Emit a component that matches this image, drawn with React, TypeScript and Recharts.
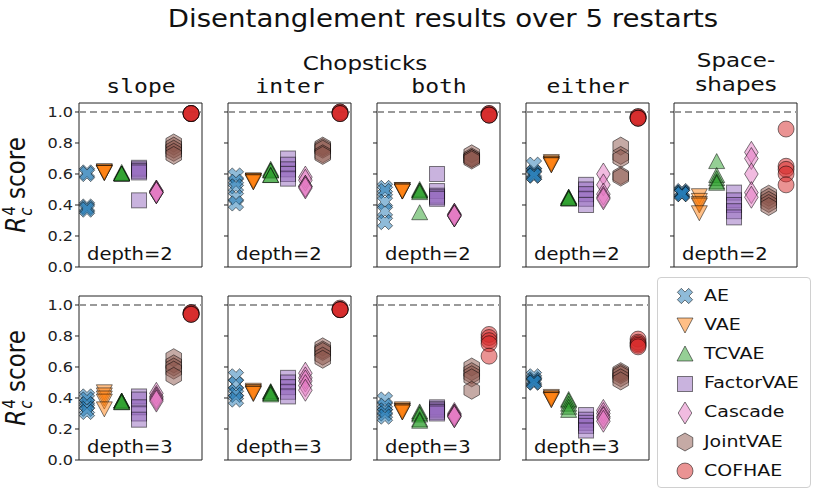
import React from 'react';
import {
  ScatterChart,
  Scatter,
  XAxis,
  YAxis,
  ReferenceLine,
  ReferenceArea,
} from 'recharts';

// methods in plotting order, one x slot each
const METHODS = ['AE', 'VAE', 'TCVAE', 'FactorVAE', 'Cascade', 'JointVAE', 'COFHAE'];
const COLORS = ['#1f77b4', '#ff7f0e', '#2ca02c', '#9467bd', '#e377c2', '#8c564b', '#d62728'];
const MARKERS = ['X', 'v', '^', 's', 'd', 'h', 'o'];
const Y_TICKS = [0, 0.2, 0.4, 0.6, 0.8, 1.0];

// scores per method (rows follow METHODS), 5 restarts each
const SLOPE_D2 = [
  [0.61, 0.6, 0.39, 0.38, 0.37],
  [0.62, 0.62, 0.61, 0.61, 0.61],
  [0.61, 0.6, 0.6, 0.6, 0.6],
  [0.64, 0.63, 0.62, 0.61, 0.43],
  [0.49, 0.49, 0.48, 0.48, 0.48],
  [0.8, 0.78, 0.76, 0.74, 0.72],
  [0.99, 0.99, 0.99, 0.99, 0.99],
];
const INTER_D2 = [
  [0.59, 0.55, 0.52, 0.45, 0.41],
  [0.56, 0.56, 0.56, 0.55, 0.55],
  [0.63, 0.62, 0.62, 0.59, 0.59],
  [0.7, 0.66, 0.63, 0.6, 0.57],
  [0.58, 0.56, 0.52, 0.52, 0.51],
  [0.78, 0.77, 0.76, 0.73, 0.72],
  [1.0, 1.0, 0.99, 0.99, 0.99],
];
const BOTH_D2 = [
  [0.51, 0.49, 0.42, 0.36, 0.29],
  [0.5, 0.5, 0.49, 0.49, 0.49],
  [0.5, 0.49, 0.49, 0.48, 0.35],
  [0.6, 0.49, 0.46, 0.45, 0.44],
  [0.34, 0.34, 0.33, 0.33, 0.33],
  [0.73, 0.71, 0.7, 0.7, 0.69],
  [0.99, 0.99, 0.98, 0.98, 0.98],
];
const EITHER_D2 = [
  [0.66, 0.61, 0.6, 0.59, 0.59],
  [0.68, 0.67, 0.67, 0.66, 0.66],
  [0.45, 0.45, 0.44, 0.44, 0.44],
  [0.53, 0.5, 0.47, 0.44, 0.4],
  [0.6, 0.53, 0.47, 0.45, 0.44],
  [0.78, 0.72, 0.7, 0.59, 0.58],
  [0.97, 0.97, 0.96, 0.96, 0.96],
];
const SPACE_SHAPES = [
  [0.49, 0.48, 0.48, 0.47, 0.47],
  [0.46, 0.43, 0.41, 0.4, 0.35],
  [0.68, 0.59, 0.57, 0.55, 0.54],
  [0.48, 0.43, 0.4, 0.36, 0.32],
  [0.74, 0.7, 0.6, 0.48, 0.45],
  [0.47, 0.45, 0.43, 0.41, 0.39],
  [0.89, 0.65, 0.63, 0.6, 0.53],
];
const SLOPE_D3 = [
  [0.41, 0.39, 0.36, 0.33, 0.31],
  [0.44, 0.42, 0.4, 0.38, 0.33],
  [0.38, 0.38, 0.38, 0.37, 0.37],
  [0.41, 0.39, 0.34, 0.3, 0.26],
  [0.43, 0.41, 0.4, 0.39, 0.38],
  [0.66, 0.62, 0.6, 0.58, 0.54],
  [0.95, 0.95, 0.94, 0.94, 0.94],
];
const INTER_D3 = [
  [0.54, 0.49, 0.44, 0.42, 0.39],
  [0.45, 0.44, 0.44, 0.43, 0.43],
  [0.44, 0.44, 0.43, 0.43, 0.42],
  [0.53, 0.5, 0.47, 0.44, 0.41],
  [0.56, 0.53, 0.51, 0.48, 0.45],
  [0.73, 0.71, 0.7, 0.67, 0.65],
  [0.98, 0.97, 0.97, 0.97, 0.97],
];
const BOTH_D3 = [
  [0.39, 0.35, 0.32, 0.3, 0.28],
  [0.33, 0.32, 0.32, 0.31, 0.31],
  [0.31, 0.3, 0.29, 0.26, 0.25],
  [0.34, 0.33, 0.32, 0.31, 0.3],
  [0.3, 0.29, 0.29, 0.28, 0.28],
  [0.6, 0.57, 0.55, 0.53, 0.45],
  [0.81, 0.79, 0.77, 0.75, 0.67],
];
const EITHER_D3 = [
  [0.54, 0.52, 0.51, 0.5, 0.5],
  [0.41, 0.4, 0.4, 0.39, 0.39],
  [0.39, 0.38, 0.36, 0.34, 0.32],
  [0.29, 0.26, 0.24, 0.22, 0.19],
  [0.32, 0.3, 0.28, 0.27, 0.25],
  [0.57, 0.56, 0.55, 0.53, 0.51],
  [0.78, 0.76, 0.75, 0.74, 0.73],
];

const SANS = '"DejaVu Sans", sans-serif';
const MONO = '"DejaVu Sans Mono", monospace';
const STRETCH = 1.15;

const PLOT_W = 123;
const PLOT_H = 164;
const Y_AXIS_W = 45;
const COL_LEFT = [79, 228, 377, 526, 674];
const ROW_TOP = [103, 296];
const X_DOMAIN: [number, number] = [-0.46, 6.63];
const Y_DOMAIN: [number, number] = [0, 1.058];

const MarkerShape = ({ kind, cx, cy, color }: any) => {
  const common = {
    fill: color,
    fillOpacity: 0.5,
    stroke: '#000',
    strokeOpacity: 0.5,
    strokeWidth: 1,
  };
  if (cx == null || cy == null) return <g />;
  const pts = (arr: number[][]) => arr.map(([x, y]) => `${cx + x},${cy + y}`).join(' ');
  switch (kind) {
    case 'X': {
      const a = 8;
      const w = 2.8;
      const plus = [
        [-w, -a], [w, -a], [w, -w], [a, -w], [a, w], [w, w],
        [w, a], [-w, a], [-w, w], [-a, w], [-a, -w], [-w, -w],
      ];
      const c = Math.SQRT1_2;
      const rot = plus.map(([x, y]) => [(x - y) * c, (x + y) * c]);
      return <polygon points={pts(rot)} {...common} />;
    }
    case 'v':
      return <polygon points={pts([[-8, -7], [8, -7], [0, 8]])} {...common} />;
    case '^':
      return <polygon points={pts([[0, -8], [8, 7], [-8, 7]])} {...common} />;
    case 's':
      return <rect x={cx - 7.5} y={cy - 7.5} width={15} height={15} {...common} />;
    case 'd':
      return <polygon points={pts([[0, -11], [6.8, 0], [0, 11], [-6.8, 0]])} {...common} />;
    case 'h': {
      const r = 9;
      const hex = [0, 1, 2, 3, 4, 5].map((k) => {
        const ang = ((90 + 60 * k) * Math.PI) / 180;
        return [r * Math.cos(ang), -r * Math.sin(ang)];
      });
      return <polygon points={pts(hex)} {...common} />;
    }
    default:
      return <circle cx={cx} cy={cy} r={8} {...common} />;
  }
};

const YTick = ({ x, y, payload, show }: any) => {
  if (!show) return <g />;
  return (
    <text
      x={x}
      y={y}
      dy={5}
      textAnchor="end"
      fontSize={14}
      fontFamily={SANS}
      fill="#222"
      transform={`translate(${x} 0) scale(${STRETCH} 1) translate(${-x} 0)`}
    >
      {Number(payload.value).toFixed(1)}
    </text>
  );
};

const Stretched = ({ left, top, size, family, align = 'center', children }: any) => (
  <div
    style={{
      position: 'absolute',
      left,
      top,
      fontSize: size,
      fontFamily: family,
      lineHeight: 1,
      whiteSpace: 'nowrap',
      color: '#111',
      transform:
        align === 'center'
          ? `translateX(-50%) scaleX(${STRETCH})`
          : `scaleX(${STRETCH})`,
      transformOrigin: align === 'center' ? 'center' : 'left',
    }}
  >
    {children}
  </div>
);

const Panel = ({ scores, col, row, depth }: any) => {
  const left = COL_LEFT[col];
  const top = ROW_TOP[row];
  const showTicks = col === 0;
  return (
    <>
      <div style={{ position: 'absolute', left: left - Y_AXIS_W, top: top - 1 }}>
        <ScatterChart
          width={Y_AXIS_W + PLOT_W + 1}
          height={PLOT_H + 12}
          margin={{ top: 1, right: 1, bottom: 11, left: 0 }}
        >
          <XAxis type="number" dataKey="x" domain={X_DOMAIN} allowDataOverflow hide />
          <YAxis
            type="number"
            dataKey="y"
            domain={Y_DOMAIN}
            allowDataOverflow
            ticks={Y_TICKS}
            interval={0}
            width={Y_AXIS_W}
            axisLine={false}
            tickLine={{ stroke: '#222' }}
            tickSize={4}
            tick={<YTick show={showTicks} />}
          />
          <ReferenceArea
            x1={X_DOMAIN[0]}
            x2={X_DOMAIN[1]}
            y1={Y_DOMAIN[0]}
            y2={Y_DOMAIN[1]}
            fill="none"
            fillOpacity={0}
            stroke="#222"
            strokeWidth={1}
            ifOverflow="visible"
          />
          <ReferenceLine y={1} stroke="#9a9a9a" strokeWidth={2} strokeDasharray="7 4" />
          {METHODS.map((m, i) => (
            <Scatter
              key={m}
              name={m}
              data={scores[i].map((v: number) => ({ x: i, y: v }))}
              isAnimationActive={false}
              shape={(p: any) => (
                <MarkerShape kind={MARKERS[i]} cx={p.cx} cy={p.cy} color={COLORS[i]} />
              )}
            />
          ))}
        </ScatterChart>
      </div>
      <Stretched left={left + 8} top={top + PLOT_H - 21.5} size={17} family={SANS} align="left">
        {`depth=${depth}`}
      </Stretched>
    </>
  );
};

const YLabel = ({ centerY }: any) => (
  <div
    style={{
      position: 'absolute',
      left: 18,
      top: centerY,
      fontSize: 23,
      fontFamily: SANS,
      lineHeight: 1,
      whiteSpace: 'nowrap',
      color: '#111',
      transform: `translate(-50%, -50%) scale(${STRETCH}, 1) rotate(-90deg)`,
    }}
  >
    <span style={{ fontStyle: 'italic' }}>R</span>
    <span
      style={{
        display: 'inline-flex',
        flexDirection: 'column',
        fontSize: 15,
        lineHeight: 0.95,
        verticalAlign: 'middle',
        marginLeft: 1,
      }}
    >
      <span>4</span>
      <span style={{ fontStyle: 'italic' }}>c</span>
    </span>
    <span> score</span>
  </div>
);

const Legend = () => (
  <div
    style={{
      position: 'absolute',
      left: 657,
      top: 277,
      width: 152,
      height: 209,
      border: '1px solid #d0d0d0',
      borderRadius: 4,
      background: '#fff',
    }}
  >
    {METHODS.map((m, i) => (
      <div
        key={m}
        style={{ position: 'absolute', left: 0, top: 18 + i * 29.2 - 12, height: 24, width: 150 }}
      >
        <svg width={40} height={24} style={{ position: 'absolute', left: 7, top: 0 }}>
          <MarkerShape kind={MARKERS[i]} cx={20} cy={12} color={COLORS[i]} />
        </svg>
        <div
          style={{
            position: 'absolute',
            left: 46,
            top: 12 - 8.5,
            fontSize: 16.5,
            fontFamily: SANS,
            lineHeight: 1,
            color: '#111',
            transform: `scaleX(${STRETCH})`,
            transformOrigin: 'left',
          }}
        >
          {m}
        </div>
      </div>
    ))}
  </div>
);

export default function App() {
  const colCenter = (c: number) => COL_LEFT[c] + PLOT_W / 2;
  return (
    <div
      style={{
        position: 'absolute',
        left: 0,
        top: 0,
        width: 818,
        height: 495,
        background: '#fff',
        overflow: 'hidden',
      }}
    >
      <Stretched left={443} top={6.5} size={24} family={SANS}>
        Disentanglement results over 5 restarts
      </Stretched>
      <Stretched left={365} top={53} size={20} family={SANS}>
        Chopsticks
      </Stretched>
      {['slope', 'inter', 'both', 'either'].map((t, c) => (
        <Stretched key={t} left={colCenter(c)} top={76} size={20} family={MONO}>
          {t}
        </Stretched>
      ))}
      <Stretched left={colCenter(4)} top={50} size={20} family={SANS}>
        Space-
      </Stretched>
      <Stretched left={colCenter(4)} top={74} size={20} family={SANS}>
        shapes
      </Stretched>

      <YLabel centerY={185} />
      <YLabel centerY={378} />

      <Panel scores={SLOPE_D2} col={0} row={0} depth={2} />
      <Panel scores={INTER_D2} col={1} row={0} depth={2} />
      <Panel scores={BOTH_D2} col={2} row={0} depth={2} />
      <Panel scores={EITHER_D2} col={3} row={0} depth={2} />
      <Panel scores={SPACE_SHAPES} col={4} row={0} depth={2} />

      <Panel scores={SLOPE_D3} col={0} row={1} depth={3} />
      <Panel scores={INTER_D3} col={1} row={1} depth={3} />
      <Panel scores={BOTH_D3} col={2} row={1} depth={3} />
      <Panel scores={EITHER_D3} col={3} row={1} depth={3} />

      <Legend />
    </div>
  );
}
